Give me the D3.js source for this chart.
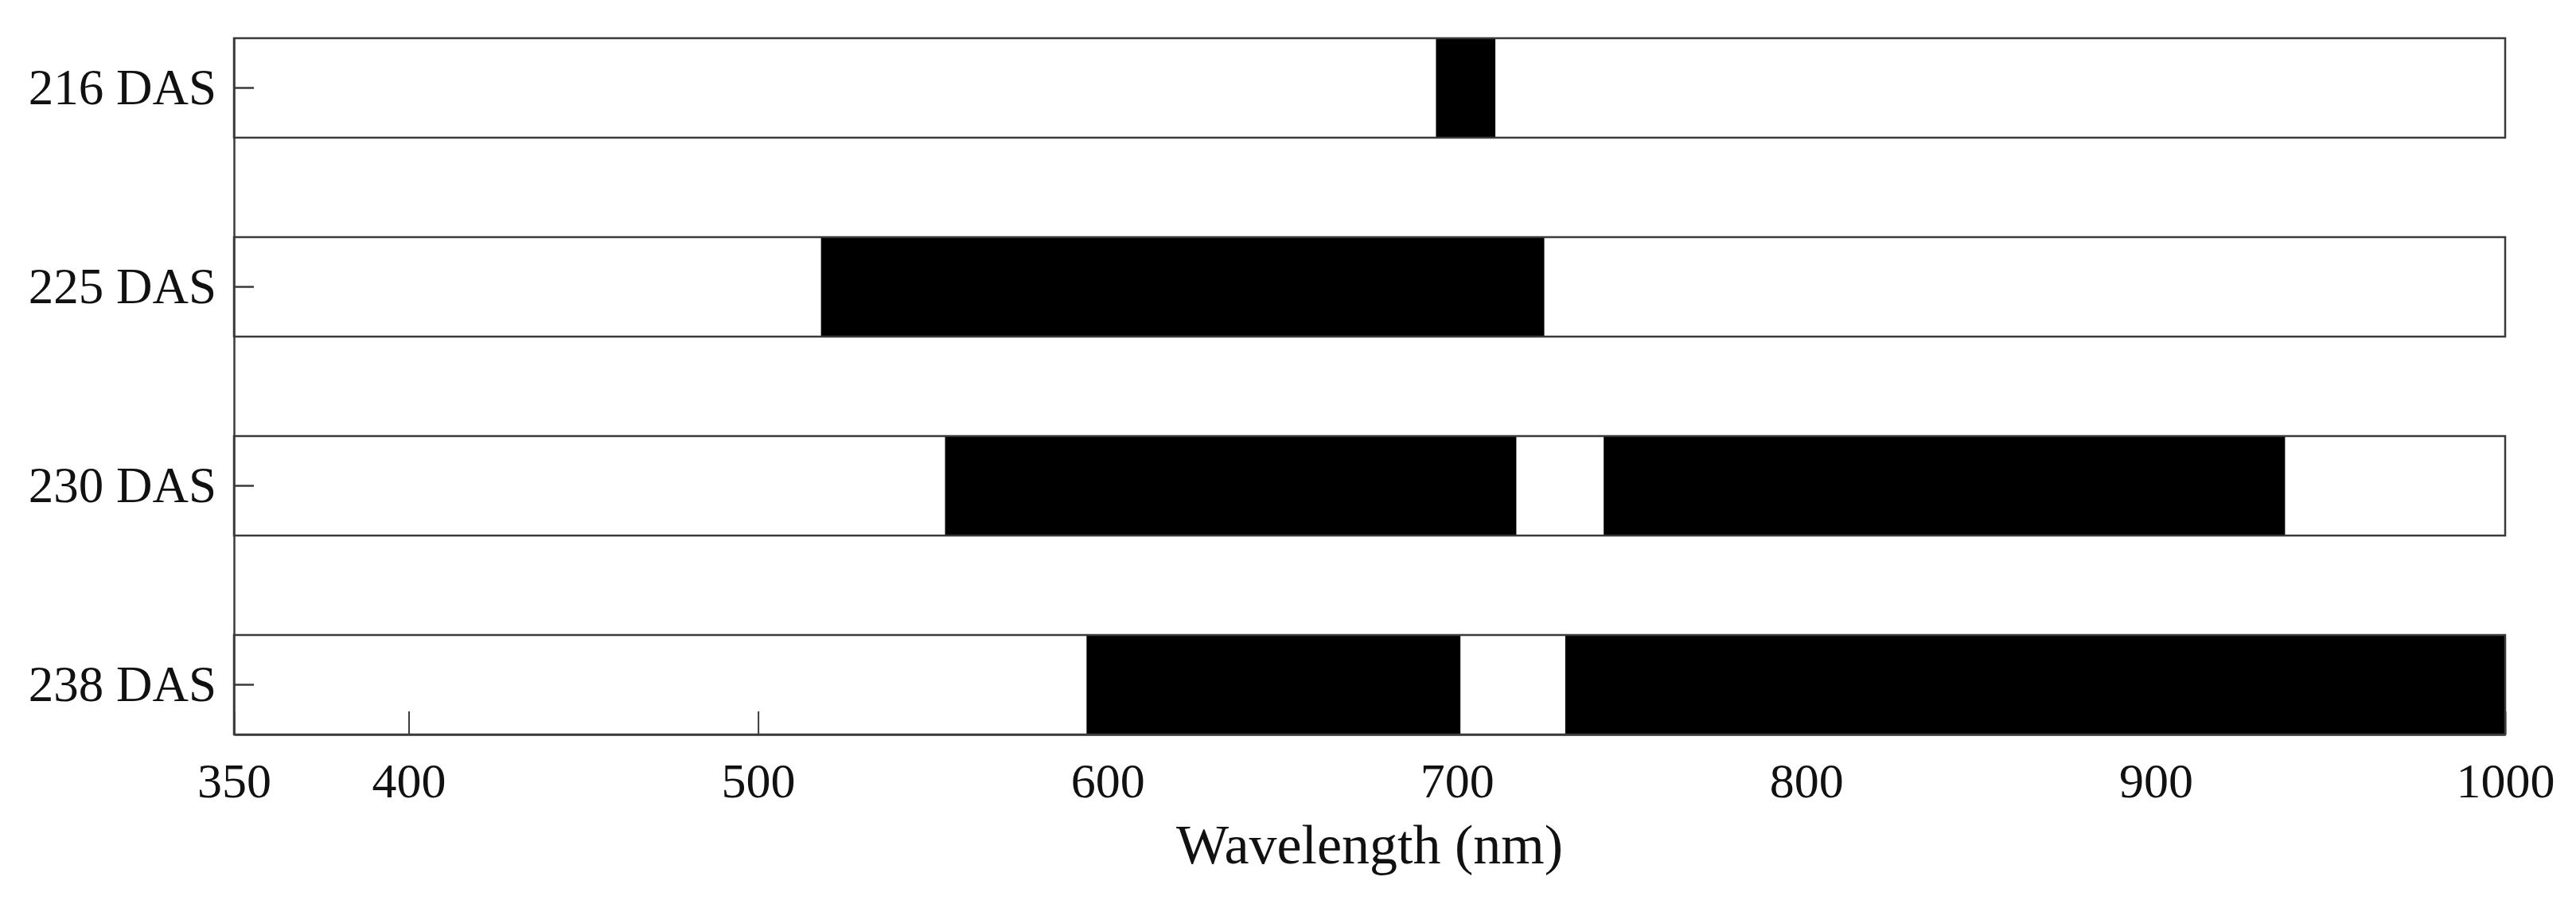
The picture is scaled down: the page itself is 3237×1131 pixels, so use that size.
<!DOCTYPE html>
<html>
<head>
<meta charset="utf-8">
<script src="https://cdn.jsdelivr.net/npm/d3@7"></script>
<style>
  body { margin: 0; background: #fff; }
  text { font-family: "Times New Roman", "Liberation Serif", serif; fill: #111; }
</style>
</head>
<body>
<svg id="chart" width="3237" height="1131"></svg>
<script>
// rows (days after sowing) and the wavelength ranges marked black in each row
var rows = [ "216 DAS", "225 DAS", "230 DAS", "238 DAS" ];
var ranges216 = [ [694, 711] ];
var ranges225 = [ [518, 725] ];
var ranges230 = [ [553.5, 717], [742, 937] ];
var ranges238 = [ [594, 701], [731, 1000] ];
var xTicks = [ 350, 400, 500, 600, 700, 800, 900, 1000 ];
var xTitle = "Wavelength (nm)";

var bands = [
    { row: rows[0], ranges: ranges216 },
    { row: rows[1], ranges: ranges225 },
    { row: rows[2], ranges: ranges230 },
    { row: rows[3], ranges: ranges238 }
];

// plot frame (note: "top" is a reserved window property, so use other names)
var plotL = 294, plotR = 3148, plotT = 48, plotB = 923;

var svg = d3.select( "#chart" );

var x = d3.scaleLinear().domain( [350, 1000] ).range( [plotL, plotR] );
var y = d3.scaleBand().domain( rows ).range( [plotT, plotB] )
    .paddingInner( 0.5 ).paddingOuter( 0 );

// axes go in first so the black segments hide the inward ticks under them
var xAxis = svg.append( "g" ).attr( "transform", "translate(0," + plotB + ")" )
    .call( d3.axisBottom( x ).tickValues( xTicks ).tickFormat( d3.format( "d" ) )
        .tickSizeInner( -29 ).tickSizeOuter( 0 ) );
xAxis.select( ".domain" ).attr( "stroke", "#3a3a3a" ).attr( "stroke-width", 2.5 );
xAxis.selectAll( ".tick line" ).attr( "stroke", "#3a3a3a" ).attr( "stroke-width", 2 );
xAxis.selectAll( ".tick text" ).attr( "font-size", 62 )
    .attr( "font-family", "'Times New Roman', 'Liberation Serif', serif" )
    .attr( "fill", "#111" ).attr( "y", 79 ).attr( "dy", 0 );

// y axis: continuous left line, ticks pointing inward
var yAxis = svg.append( "g" ).attr( "transform", "translate(" + plotL + ",0)" )
    .call( d3.axisLeft( y ).tickSizeInner( -25 ).tickSizeOuter( 0 ).tickPadding( 22 ) );
yAxis.select( ".domain" ).attr( "stroke", "#3a3a3a" ).attr( "stroke-width", 2.5 );
yAxis.selectAll( ".tick line" ).attr( "stroke", "#3a3a3a" ).attr( "stroke-width", 2.5 );
yAxis.selectAll( ".tick text" ).attr( "font-size", 63 )
    .attr( "font-family", "'Times New Roman', 'Liberation Serif', serif" )
    .attr( "fill", "#111" ).attr( "dy", "0.33em" );

// one group per row, black segments first, outline drawn over them
var g = svg.selectAll( "g.row" ).data( bands ).enter().append( "g" )
    .attr( "class", "row" );

g.selectAll( "rect.seg" ).data( d => d.ranges.map( r => ( { row: d.row, r: r } ) ) )
    .enter().append( "rect" ).attr( "class", "seg" )
    .attr( "x", d => x( d.r[0] ) )
    .attr( "width", d => x( d.r[1] ) - x( d.r[0] ) )
    .attr( "y", d => y( d.row ) )
    .attr( "height", y.bandwidth() )
    .attr( "fill", "#000" );

g.append( "rect" )
    .attr( "x", x( 350 ) ).attr( "width", x( 1000 ) - x( 350 ) )
    .attr( "y", d => y( d.row ) ).attr( "height", y.bandwidth() )
    .attr( "fill", "none" ).attr( "stroke", "#3a3a3a" ).attr( "stroke-width", 2.5 );

svg.append( "text" )
    .attr( "x", ( plotL + plotR ) / 2 ).attr( "y", 1085 )
    .attr( "text-anchor", "middle" ).attr( "font-size", 70 )
    .text( xTitle );
</script>
</body>
</html>
